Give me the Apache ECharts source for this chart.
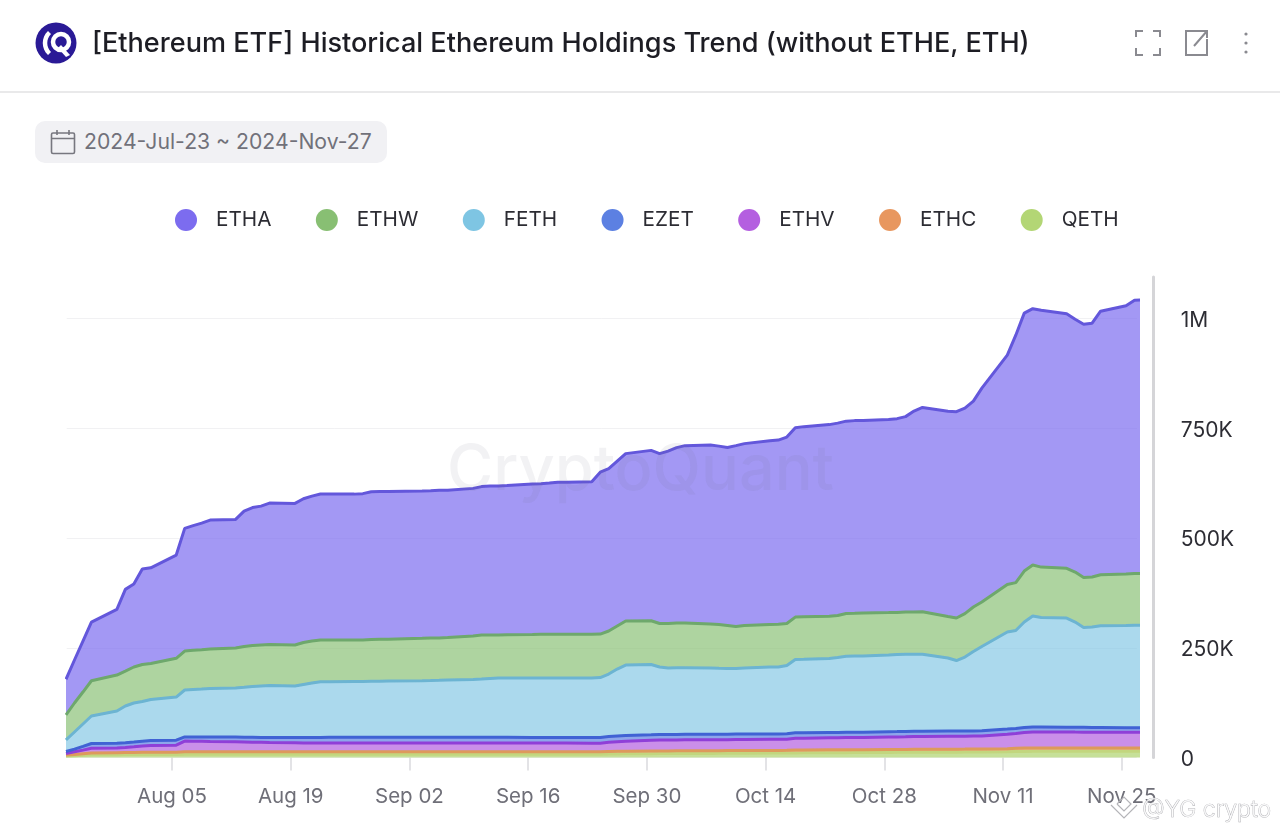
<!DOCTYPE html>
<html lang="en">
<head>
    <meta charset="UTF-8">
    <title>Ethereum ETF holdings</title>
    <script src="https://cdn.jsdelivr.net/npm/echarts@6/dist/echarts.min.js"></script>
    <style>
        * {
            margin: 0;
            padding: 0;
            box-sizing: border-box;
        }

        html, body {
            width: 1280px;
            height: 831px;
            background: #ffffff;
            font-family: Inter, Roboto, sans-serif;
            overflow: hidden;
        }

        #chart {
            position: absolute;
            top: 0;
            left: 0;
            width: 1280px;
            height: 831px;
        }

        .g-logo {
            position: absolute;
            top: 22px;
            left: 35px;
        }

        .g-title {
            position: absolute;
            top: 26px;
            left: 92px;
            font-size: 27.1px;
            line-height: 34px;
            font-weight: 500;
            color: #1d1d24;
            white-space: nowrap;
        }

        .g-icons {
            position: absolute;
            top: 28px;
            left: 1134px;
        }

        .g-line {
            position: absolute;
            top: 91px;
            left: 0;
            width: 1280px;
            height: 2px;
            background: #e9e9ea;
        }

        .g-date {
            position: absolute;
            top: 121px;
            left: 35px;
            width: 352px;
            height: 42px;
            border-radius: 10px;
            background: #f1f1f4;
            color: #71717a;
            font-size: 21.2px;
            line-height: 41px;
            padding-left: 49px;
            white-space: nowrap;
        }

        .g-date svg {
            position: absolute;
            top: 8px;
            left: 15px;
        }
    </style>
</head>
<body>
<div id="chart"></div>
<svg class="g-logo" width="42" height="42" viewBox="0 0 42 42">
    <circle cx="21" cy="21" r="20.5" fill="#2a1a96"></circle>
    <path d="M13 9 C6 15 6 27 13 33 L16 30 C11 25 11 17 16 12 Z" fill="#ffffff"></path>
    <circle cx="26" cy="20" r="8" fill="none" stroke="#ffffff" stroke-width="4.5"></circle>
    <path d="M26 23 L35 33 L31 35 L23 26 Z" fill="#ffffff"></path>
</svg>
<div class="g-title">[Ethereum ETF] Historical Ethereum Holdings Trend (without ETHE, ETH)</div>
<svg class="g-icons" width="126" height="30" viewBox="0 0 126 30" fill="none" stroke="#8a8a90" stroke-width="2">
    <path d="M2 9 V3 H9 M19 3 H26 V9 M26 20 V27 H19 M9 27 H2 V20"></path>
    <path d="M71 3 H52 V27 H73 V11 M60 18 L73 3 M65 3 H73 V10"></path>
    <circle cx="112" cy="6" r="1.6" fill="#8a8a90" stroke="none"></circle>
    <circle cx="112" cy="15" r="1.6" fill="#8a8a90" stroke="none"></circle>
    <circle cx="112" cy="24" r="1.6" fill="#8a8a90" stroke="none"></circle>
</svg>
<div class="g-line"></div>
<div class="g-date">
    <svg width="26" height="26" viewBox="0 0 26 26" fill="none" stroke="#77777f" stroke-width="1.6">
        <rect x="1.5" y="4" width="23" height="20.5" rx="1.5"></rect>
        <path d="M1.5 9.5 H24.5 M7 1 V6 M19 1 V6"></path>
    </svg>
    2024-Jul-23 ~ 2024-Nov-27
</div>
<script type="text/javascript">
    // trading days, weekends are just joined up by the line
    var dates = [
        '07-23', '07-24', '07-25', '07-26',
        '07-29', '07-30', '07-31', '08-01', '08-02',
        '08-05', '08-06', '08-07', '08-08', '08-09',
        '08-12', '08-13', '08-14', '08-15', '08-16',
        '08-19', '08-20', '08-21', '08-22', '08-23',
        '08-26', '08-27', '08-28', '08-29', '08-30',
        '09-03', '09-04', '09-05', '09-06',
        '09-09', '09-10', '09-11', '09-12', '09-13',
        '09-16', '09-17', '09-18', '09-19', '09-20',
        '09-23', '09-24', '09-25', '09-26', '09-27',
        '09-30', '10-01', '10-02', '10-03', '10-04',
        '10-07', '10-08', '10-09', '10-10', '10-11',
        '10-14', '10-15', '10-16', '10-17', '10-18',
        '10-21', '10-22', '10-23', '10-24', '10-25',
        '10-28', '10-29', '10-30', '10-31', '11-01',
        '11-04', '11-05', '11-06', '11-07', '11-08',
        '11-11', '11-12', '11-13', '11-14', '11-15',
        '11-18', '11-19', '11-20', '11-21', '11-22',
        '11-25', '11-26', '11-27'
    ]

    // holdings in thousand ETH, same order as dates
    var etha = [
        81.3, 98, 116.2, 133.7,
        149.7, 186.1, 189.1, 217.5, 218.2,
        235.3, 279.5, 284.3, 288.9, 293.9,
        293.2, 308.7, 314.4, 316.6, 322.3,
        322.8, 327.6, 330.3, 332.6, 332.6,
        332.6, 333.7, 336.7, 336.7, 337.1,
        335.5, 335.5, 336.5, 336,
        336.5, 338.3, 339.4, 339.4, 339.9,
        342.8, 343.5, 344.7, 346.9, 346.9,
        347.4, 369, 370.2, 375.9, 381.6,
        388.2, 387.3, 393, 399.8, 404.3,
        407.8, 406.6, 405.9, 412.3, 414.6,
        418.7, 419.8, 424.8, 431.7, 433.3,
        436.7, 438.5, 438.5, 439.2, 439,
        439.9, 441.5, 445.3, 457.9, 465.6,
        468.1, 470.4, 468.1, 469.3, 487.5,
        522.8, 563.8, 587.7, 584.3, 585.4,
        580.4, 576.3, 577.5, 578.6, 600.7,
        611.6, 623, 623.3
    ]
    var ethw = [
        57, 66.1, 72.9, 80.4,
        82, 79.7, 82, 84.3, 82,
        88.2, 88.8, 89.3, 89.3, 90,
        91.1, 92.9, 93.4, 93.4, 93.4,
        93.4, 95.7, 95.7, 95, 95,
        94.5, 94.5, 95.2, 95.7, 95,
        96.6, 96.8, 96.4, 96.8,
        99.1, 100.2, 99.1, 98, 98.6,
        99.1, 99.5, 99.5, 99.5, 99.5,
        99.8, 99.1, 98, 98, 100.2,
        99.8, 99.1, 101.4, 101.8, 101.8,
        100.2, 99.8, 98, 95.7, 96.8,
        96.8, 97.3, 95.7, 96.8, 97,
        96.4, 95.7, 97.5, 97.3, 98,
        96.8, 96.1, 96.4, 96.4, 97,
        94.5, 96.8, 99.1, 101.4, 101.4,
        108.2, 109.3, 116.2, 116.2, 115,
        113.2, 113.9, 113.9, 113.9, 116.2,
        117.3, 118, 118.5
    ]
    var feth = [
        26.3, 39.1, 51, 62.5,
        73.2, 83.5, 88.7, 90.3, 93.6,
        98.4, 106.8, 108.2, 109.2, 110.5,
        111.8, 113.7, 115.7, 117.1, 118.4,
        117.4, 120.7, 124.2, 127, 126.7,
        127.1, 127.1, 127.6, 127.6, 128.3,
        129, 129.4, 129.9, 130.5,
        131.7, 132.8, 134, 135.1, 135.1,
        135.3, 135.3, 135.3, 135.3, 135.3,
        135.6, 136.6, 142.5, 152.6, 160.4,
        160.1, 153.7, 151.4, 152, 151.9,
        150.9, 150.1, 149.5, 149.4, 150.5,
        152.5, 152.5, 155.5, 167, 167.4,
        168.5, 170.6, 172.9, 173.5, 173.5,
        174.8, 175.6, 175.7, 175.2, 175.2,
        166.5, 160.8, 168.5, 180.9, 192.1,
        221.2, 223, 240.3, 252.7, 249.3,
        248.7, 239.8, 227.3, 228.7, 231.6,
        232.8, 233.3, 233.3
    ]
    var ezet = [
        4.5, 6, 8.5, 11,
        11, 11, 11, 11, 11,
        11.4, 9.5, 9.7, 10, 10.2,
        10.5, 10.7, 11, 11.3, 11.6,
        12, 12.3, 12.5, 12.7, 13,
        13, 13, 13, 13, 13,
        13, 13, 13, 13,
        13, 13, 13, 13, 13,
        13, 13, 13, 13, 13,
        13, 13, 13, 13, 13,
        12.5, 12.5, 12.5, 12.5, 12.5,
        12.5, 12.5, 12.5, 12.5, 12.5,
        12.3, 12.3, 12.3, 12.3, 12.3,
        12, 12, 12, 12, 12,
        12, 12, 12, 12, 12,
        11.8, 11.8, 11.8, 11.8, 11.8,
        11.5, 11.5, 11.5, 11.5, 11.5,
        11, 11, 11, 11, 11,
        10.5, 10.5, 10.5
    ]
    var ethv = [
        3.4, 6, 8, 10.5,
        10.6, 11.5, 13, 14.5, 15.5,
        16, 24.5, 24, 23.8, 23.5,
        23, 22.5, 22, 21.5, 21,
        20.5, 20.3, 20, 20, 20,
        20, 20, 20, 20, 20,
        20, 20, 20, 20,
        20, 20, 20, 20, 20,
        19.8, 19.8, 19.8, 19.8, 19.8,
        19.5, 19.5, 21, 22, 23,
        24.5, 25, 25, 25, 25,
        25, 25, 25, 25, 25,
        25.2, 25.2, 25.5, 27, 27,
        27.5, 27.7, 28, 28, 28,
        28.5, 28.7, 29, 29.3, 29.3,
        29.4, 29.4, 29.5, 29.5, 29.5,
        33, 34, 35.5, 36.5, 36.5,
        36.5, 36.3, 36.2, 36, 36,
        35.8, 35.8, 35.8
    ]
    var ethc = [
        2.3, 3, 3.8, 4.5,
        4.6, 4.7, 4.8, 4.9, 5,
        5, 5.5, 5.5, 5.5, 5.5,
        5.5, 5.5, 5.5, 5.5, 5.5,
        5.5, 5.5, 5.5, 5.5, 5.5,
        5.5, 5.5, 5.5, 5.5, 5.5,
        5.5, 5.5, 5.5, 5.5,
        5.5, 5.5, 5.5, 5.5, 5.5,
        5.5, 5.5, 5.5, 5.5, 5.5,
        5.5, 5.5, 5.7, 5.8, 5.9,
        6, 6, 6, 6, 6,
        6.1, 6.1, 6.1, 6.1, 6.1,
        6.2, 6.2, 6.2, 6.4, 6.4,
        6.5, 6.5, 6.5, 6.5, 6.5,
        6.6, 6.6, 6.6, 6.6, 6.6,
        6.8, 6.8, 6.8, 6.9, 7,
        7.2, 7.4, 7.6, 7.6, 7.6,
        7.6, 7.6, 7.6, 7.6, 7.6,
        7.6, 7.6, 7.6
    ]
    var qeth = [
        3.4, 4, 5, 6,
        6.5, 6.6, 6.7, 6.9, 7,
        7, 7.5, 7.5, 7.5, 7.5,
        7.5, 7.5, 7.5, 7.5, 7.5,
        7.5, 7.5, 7.5, 7.5, 7.5,
        7.5, 7.5, 7.5, 7.5, 7.5,
        7.5, 7.5, 7.5, 7.5,
        7.5, 7.5, 7.5, 7.5, 7.5,
        7.5, 7.5, 7.5, 7.5, 7.5,
        7.5, 7.6, 8, 8.2, 8.4,
        8.8, 9, 9, 9.1, 9.2,
        9.4, 9.5, 9.6, 9.7, 9.8,
        10, 10, 10.1, 10.5, 10.6,
        11, 11, 11.1, 11.2, 11.2,
        11.6, 11.7, 11.8, 12, 12,
        12.2, 12.2, 12.3, 12.4, 12.5,
        13, 13.4, 13.8, 14, 14,
        14, 14, 14, 14, 14,
        14, 14, 14
    ]

    var tickDates = ['08-05', '08-19', '09-02', '09-16', '09-30', '10-14', '10-28', '11-11', '11-25']
    var tickLabels = ['Aug 05', 'Aug 19', 'Sep 02', 'Sep 16', 'Sep 30', 'Oct 14', 'Oct 28', 'Nov 11', 'Nov 25']
    var yLabels = {0: '0', 250: '250K', 500: '500K', 750: '750K', 1000: '1M'}

    var legendNames = ['ETHA', 'ETHW', 'FETH', 'EZET', 'ETHV', 'ETHC', 'QETH']

    // points sit at midday, ticks at midnight, that is how the reference has them
    function pointTime(d) {
        return Date.parse('2024-' + d + 'T12:00:00Z')
    }

    function tickTime(d) {
        return Date.parse('2024-' + d + 'T00:00:00Z')
    }

    function makeSeries(name, values, color, lineColor, opacity) {
        return {
            name: name,
            type: 'line',
            stack: 'all',
            symbol: 'none',
            color: color,
            // value goes first: the stack sums the first numeric column, with two value axes that would be x
            encode: {x: 1, y: 0},
            lineStyle: {width: 3, color: lineColor},
            areaStyle: {color: color, opacity: opacity},
            emphasis: {disabled: true},
            data: values.map(function (v, i) {
                return [v, pointTime(dates[i])]
            })
        }
    }

    var tickTimes = tickDates.map(tickTime)

    var myChart = echarts.init(document.getElementById('chart'))
    myChart.setOption({
        animation: false,
        textStyle: {fontFamily: 'Inter, Roboto, sans-serif'},
        legend: {
            left: 170,
            top: 204,
            icon: 'circle',
            itemWidth: 22,
            itemHeight: 22,
            itemGap: 44.4,
            selectedMode: false,
            data: legendNames,
            textStyle: {
                fontSize: 20.7,
                color: '#2c2c33',
                padding: [0, 0, 0, 14]
            }
        },
        // right side is a bit short of the visible end, the clip runs past the grid by the line width
        grid: {
            left: 66.7,
            right: 143.2,
            top: 277,
            bottom: 73.5
        },
        // plain value axis holding timestamps, a time axis has no custom tick positions
        xAxis: {
            type: 'value',
            min: Date.parse('2024-07-23T14:00:00Z'),
            max: Date.parse('2024-11-26T18:30:00Z'),
            offset: 3,
            axisLine: {show: false},
            axisTick: {
                length: 13,
                customValues: tickTimes,
                lineStyle: {color: '#e3e3e6', width: 2}
            },
            axisLabel: {
                customValues: tickTimes,
                margin: 26,
                fontSize: 20.5,
                color: '#6f6f78',
                formatter: function (v) {
                    return tickLabels[tickTimes.indexOf(v)]
                }
            },
            splitLine: {show: false}
        },
        yAxis: {
            type: 'value',
            position: 'right',
            min: 0,
            max: 1095,
            interval: 250,
            offset: 16,
            axisLine: {show: true, lineStyle: {color: '#d5d5d8', width: 3}},
            axisTick: {show: false},
            axisLabel: {
                margin: 28,
                showMaxLabel: false,
                rich: {
                    v: {fontSize: 21, color: '#2c2c33', padding: [4, 0, 0, 0]}
                },
                formatter: function (v) {
                    return yLabels[v] ? '{v|' + yLabels[v] + '}' : ''
                }
            },
            splitLine: {
                showMaxLine: false,
                lineStyle: {color: '#f1f1f3', width: 1}
            }
        },
        graphic: [
            {
                type: 'text',
                left: 447,
                top: 440,
                z: 100,
                silent: true,
                style: {
                    text: 'CryptoQuant',
                    font: '500 63px Inter, Roboto, sans-serif',
                    fill: 'rgba(110, 110, 130, 0.085)'
                }
            },
            {
                type: 'text',
                left: 1142,
                top: 798,
                z: 100,
                silent: true,
                style: {
                    text: '@YG crypto',
                    font: '300 23px Inter, Roboto, sans-serif',
                    fill: 'rgba(255, 255, 255, 0.75)',
                    stroke: '#a9a9ae',
                    lineWidth: 0.7
                }
            },
            {
                type: 'polyline',
                z: 100,
                silent: true,
                shape: {points: [[1111, 805], [1124, 818], [1137, 805]]},
                style: {fill: 'none', stroke: '#b4b4b8', lineWidth: 1.2}
            },
            {
                type: 'polyline',
                z: 100,
                silent: true,
                shape: {points: [[1117, 804], [1124, 811], [1131, 804], [1124, 797], [1117, 804]]},
                style: {fill: 'none', stroke: '#b4b4b8', lineWidth: 1.2}
            }
        ],
        series: [
            makeSeries('QETH', qeth, '#b3d675', '#c2d67e', 0.75),
            makeSeries('ETHC', ethc, '#e8975f', '#dd9a5c', 0.75),
            makeSeries('ETHV', ethv, '#b45fe0', '#8f3fd8', 0.7),
            makeSeries('EZET', ezet, '#5c80e2', '#4062d4', 0.7),
            makeSeries('FETH', feth, '#7ec5e3', '#6cb4d2', 0.65),
            makeSeries('ETHW', ethw, '#88bf73', '#6ea86c', 0.68),
            makeSeries('ETHA', etha, '#7c6cef', '#6357db', 0.7)
        ]
    })
</script>
</body>
</html>
